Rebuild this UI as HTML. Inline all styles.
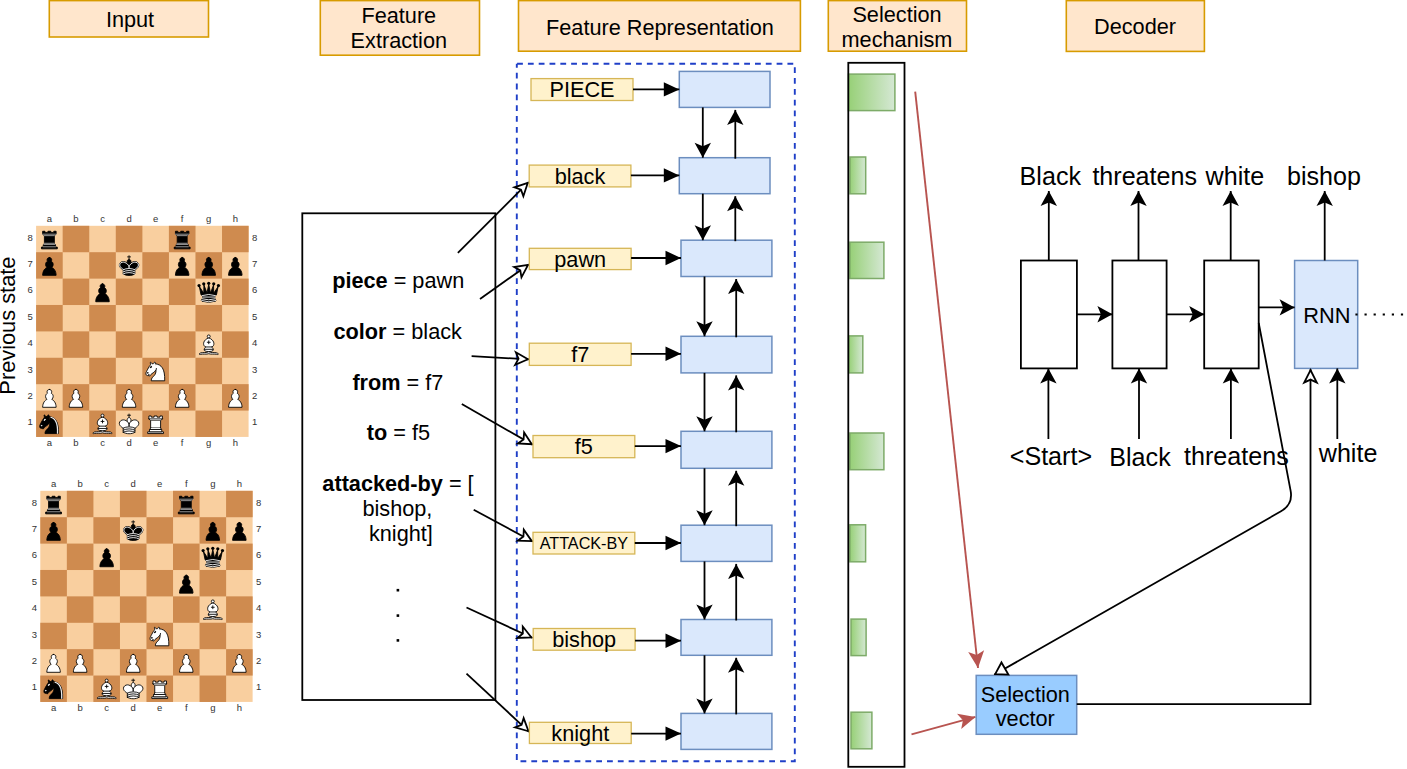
<!DOCTYPE html><html><head><meta charset="utf-8"><style>
html,body{margin:0;padding:0;background:#fff;overflow:hidden;}
svg{display:block;font-family:"Liberation Sans", sans-serif;}
.coord{font-size:9.5px;fill:#333;text-anchor:middle;}
.t21{font-size:21.7px;fill:#000;text-anchor:middle;}
.t24{font-size:25.1px;fill:#000;text-anchor:middle;}
</style></head><body>
<svg width="1407" height="769" viewBox="0 0 1407 769">
<defs>
<symbol id="wP" viewBox="0 0 45 45"><path d="m 22.5,9 c -2.21,0 -4,1.79 -4,4 0,0.89 0.29,1.71 0.78,2.38 C 17.33,16.5 16,18.59 16,21 c 0,2.03 0.94,3.84 2.41,5.03 C 15.41,27.09 11,31.58 11,39.5 H 34 C 34,31.58 29.59,27.09 26.59,26.03 28.06,24.84 29,23.03 29,21 29,18.59 27.67,16.5 25.72,15.38 26.21,14.71 26.5,13.89 26.5,13 c 0,-2.21 -1.79,-4 -4,-4 z" style="fill:#fff;stroke:#000;stroke-width:1.5;stroke-linecap:round"/></symbol>
<symbol id="bP" viewBox="0 0 45 45"><path d="m 22.5,9 c -2.21,0 -4,1.79 -4,4 0,0.89 0.29,1.71 0.78,2.38 C 17.33,16.5 16,18.59 16,21 c 0,2.03 0.94,3.84 2.41,5.03 C 15.41,27.09 11,31.58 11,39.5 H 34 C 34,31.58 29.59,27.09 26.59,26.03 28.06,24.84 29,23.03 29,21 29,18.59 27.67,16.5 25.72,15.38 26.21,14.71 26.5,13.89 26.5,13 c 0,-2.21 -1.79,-4 -4,-4 z" style="fill:#000;stroke:#000;stroke-width:1.5;stroke-linecap:round"/></symbol>
<symbol id="wN" viewBox="0 0 45 45"><g style="fill:none;stroke:#000;stroke-width:1.5;stroke-linecap:round;stroke-linejoin:round;" transform="translate(0,0.3)"><path d="M 22,10 C 32.5,11 38.5,18 38,39 L 15,39 C 15,30 25,32.5 23,18" style="fill:#fff"/><path d="M 24,18 C 24.38,20.91 18.45,25.37 16,27 C 13,29 13.18,31.34 11,31 C 9.958,30.06 12.41,27.96 11,28 C 10,28 11.19,29.23 10,30 C 9,30 5.997,31 6,26 C 6,24 12,14 12,14 C 12,14 13.89,12.1 14,10.5 C 13.27,9.506 13.5,8.5 13.5,7.5 C 14.5,6.5 16.5,10 16.5,10 L 18.5,10 C 18.5,10 19.28,8.008 21,7 C 22,7 22,10 22,10" style="fill:#fff"/><path d="M 9.5 25.5 A 0.5 0.5 0 1 1 8.5,25.5 A 0.5 0.5 0 1 1 9.5 25.5 z" style="fill:#000"/><path d="M 15 15.5 A 0.5 1.5 0 1 1 14,15.5 A 0.5 1.5 0 1 1 15 15.5 z" transform="matrix(0.866,0.5,-0.5,0.866,9.693,-5.173)" style="fill:#000"/></g></symbol>
<symbol id="bN" viewBox="0 0 45 45"><g style="fill:none;stroke:#000;stroke-width:1.5;stroke-linecap:round;stroke-linejoin:round;" transform="translate(0,0.3)"><path d="M 22,10 C 32.5,11 38.5,18 38,39 L 15,39 C 15,30 25,32.5 23,18" style="fill:#000"/><path d="M 24,18 C 24.38,20.91 18.45,25.37 16,27 C 13,29 13.18,31.34 11,31 C 9.958,30.06 12.41,27.96 11,28 C 10,28 11.19,29.23 10,30 C 9,30 5.997,31 6,26 C 6,24 12,14 12,14 C 12,14 13.89,12.1 14,10.5 C 13.27,9.506 13.5,8.5 13.5,7.5 C 14.5,6.5 16.5,10 16.5,10 L 18.5,10 C 18.5,10 19.28,8.008 21,7 C 22,7 22,10 22,10" style="fill:#000"/><path d="M 9.5 25.5 A 0.5 0.5 0 1 1 8.5,25.5 A 0.5 0.5 0 1 1 9.5 25.5 z" style="fill:#ececec;stroke:#ececec"/><path d="M 15 15.5 A 0.5 1.5 0 1 1 14,15.5 A 0.5 1.5 0 1 1 15 15.5 z" transform="matrix(0.866,0.5,-0.5,0.866,9.693,-5.173)" style="fill:#ececec;stroke:#ececec"/><path d="M 24.55,10.4 L 24.1,11.85 L 24.6,12 C 27.75,13 30.25,14.49 32.5,18.75 C 34.75,23.01 35.75,29.06 35.25,39 L 35.2,39.5 L 37.45,39.5 L 37.5,39 C 38,28.94 36.62,22.15 34.25,17.66 C 31.88,13.17 28.46,11.02 25.06,10.5 L 24.55,10.4 z" style="fill:#ececec;stroke:none"/></g></symbol>
<symbol id="wB" viewBox="0 0 45 45"><g style="fill:none;stroke:#000;stroke-width:1.5;stroke-linecap:round;stroke-linejoin:round;" transform="translate(0,0.6)"><g style="fill:#fff;stroke:#000;stroke-linecap:butt"><path d="M 9,36 C 12.39,35.03 19.11,36.43 22.5,34 C 25.89,36.43 32.61,35.03 36,36 C 36,36 37.65,36.54 39,38 C 38.32,38.97 37.35,38.99 36,38.5 C 32.61,37.53 25.89,38.96 22.5,37.5 C 19.11,38.96 12.39,37.53 9,38.5 C 7.65,38.99 6.68,38.97 6,38 C 7.35,36.54 9,36 9,36 z"/><path d="M 15,32 C 17.5,34.5 27.5,34.5 30,32 C 30.5,30.5 30,30 30,30 C 30,27.5 27.5,26 27.5,26 C 33,24.5 33.5,14.5 22.5,10.5 C 11.5,14.5 12,24.5 17.5,26 C 17.5,26 15,27.5 15,30 C 15,30 14.5,30.5 15,32 z"/><path d="M 25 8 A 2.5 2.5 0 1 1 20,8 A 2.5 2.5 0 1 1 25 8 z"/></g><path d="M 17.5,26 L 27.5,26 M 15,30 L 30,30 M 22.5,15.5 L 22.5,20.5 M 20,18 L 25,18" style="fill:none;stroke:#000;stroke-linejoin:miter"/></g></symbol>
<symbol id="wK" viewBox="0 0 45 45"><g style="fill:none;stroke:#000;stroke-width:1.5;stroke-linecap:round;stroke-linejoin:round;"><path d="M 22.5,11.63 L 22.5,6" style="stroke-linejoin:miter"/><path d="M 20,8 L 25,8" style="stroke-linejoin:miter"/><path d="M 22.5,25 C 22.5,25 27,17.5 25.5,14.5 C 25.5,14.5 24.5,12 22.5,12 C 20.5,12 19.5,14.5 19.5,14.5 C 18,17.5 22.5,25 22.5,25" style="fill:#fff;stroke-linecap:butt;stroke-linejoin:miter"/><path d="M 12.5,37 C 18,40.5 27,40.5 32.5,37 L 32.5,30 C 32.5,30 41.5,25.5 38.5,19.5 C 34.5,13 25,16 22.5,23.5 L 22.5,27 L 22.5,23.5 C 20,16 10.5,13 6.5,19.5 C 3.5,25.5 12.5,30 12.5,30 L 12.5,37" style="fill:#fff"/><path d="M 12.5,30 C 18,27 27,27 32.5,30 M 12.5,33.5 C 18,30.5 27,30.5 32.5,33.5 M 12.5,37 C 18,34 27,34 32.5,37"/></g></symbol>
<symbol id="bK" viewBox="0 0 45 45"><g style="fill:none;stroke:#000;stroke-width:1.5;stroke-linecap:round;stroke-linejoin:round;"><path d="M 22.5,11.63 L 22.5,6" style="stroke-linejoin:miter"/><path d="M 22.5,25 C 22.5,25 27,17.5 25.5,14.5 C 25.5,14.5 24.5,12 22.5,12 C 20.5,12 19.5,14.5 19.5,14.5 C 18,17.5 22.5,25 22.5,25" style="fill:#000;stroke-linecap:butt;stroke-linejoin:miter"/><path d="M 12.5,37 C 18,40.5 27,40.5 32.5,37 L 32.5,30 C 32.5,30 41.5,25.5 38.5,19.5 C 34.5,13 25,16 22.5,23.5 L 22.5,27 L 22.5,23.5 C 20,16 10.5,13 6.5,19.5 C 3.5,25.5 12.5,30 12.5,30 L 12.5,37" style="fill:#000"/><path d="M 20,8 L 25,8" style="stroke-linejoin:miter"/><path d="M 32,29.5 C 32,29.5 40.5,25.5 38.03,19.85 C 34.15,14 25,18 22.5,24.5 L 22.5,26.6 L 22.5,24.5 C 20,18 10.85,14 6.97,19.85 C 4.5,25.5 13,29.5 13,29.5" style="stroke:#fff"/><path d="M 12.5,30 C 18,27 27,27 32.5,30 M 12.5,33.5 C 18,30.5 27,30.5 32.5,33.5 M 12.5,37 C 18,34 27,34 32.5,37" style="stroke:#fff"/></g></symbol>
<symbol id="bQ" viewBox="0 0 45 45"><g style="fill:#000;stroke:#000;stroke-width:1.5;stroke-linecap:round;stroke-linejoin:round;"><g style="stroke:none"><circle cx="6" cy="12" r="2.75"/><circle cx="14" cy="9" r="2.75"/><circle cx="22.5" cy="8" r="2.75"/><circle cx="31" cy="9" r="2.75"/><circle cx="39" cy="12" r="2.75"/></g><path d="M 9,26 C 17.5,24.5 30,24.5 36,26 L 38.5,13.5 L 31,25 L 30.7,10.9 L 25.5,24.5 L 22.5,10 L 19.5,24.5 L 14.3,10.9 L 14,25 L 6.5,13.5 L 9,26 z" style="stroke-linecap:butt"/><path d="M 9,26 C 9,28 10.5,28 11.5,30 C 12.5,31.5 12.5,31 12,33.5 C 10.5,34.5 10.5,36 10.5,36 C 9,37.5 11,38.5 11,38.5 C 17.5,39.5 27.5,39.5 34,38.5 C 34,38.5 35.5,37.5 34,36 C 34,36 34.5,34.5 33,33.5 C 32.5,31 32.5,31.5 33.5,30 C 34.5,28 36,28 36,26 C 27.5,24.5 17.5,24.5 9,26 z" style="stroke-linecap:butt"/><path d="M 11,38.5 A 35,35 1 0 0 34,38.5" style="fill:none;stroke-linecap:butt"/><path d="M 11,29 A 35,35 1 0 1 34,29" style="fill:none;stroke:#fff"/><path d="M 12.5,31.5 L 32.5,31.5" style="fill:none;stroke:#fff"/><path d="M 11.5,34.5 A 35,35 1 0 0 33.5,34.5" style="fill:none;stroke:#fff"/><path d="M 10.5,37.5 A 35,35 1 0 0 34.5,37.5" style="fill:none;stroke:#fff"/></g></symbol>
<symbol id="bR" viewBox="0 0 45 45"><g style="fill:#000;stroke:#000;stroke-width:1.5;stroke-linecap:round;stroke-linejoin:round;" transform="translate(0,0.3)"><path d="M 9,39 L 36,39 L 36,36 L 9,36 L 9,39 z" style="stroke-linecap:butt"/><path d="M 12.5,32 L 14,29.5 L 31,29.5 L 32.5,32 L 12.5,32 z" style="stroke-linecap:butt"/><path d="M 12,36 L 12,32 L 33,32 L 33,36 L 12,36 z" style="stroke-linecap:butt"/><path d="M 14,29.5 L 14,16.5 L 31,16.5 L 31,29.5 L 14,29.5 z" style="stroke-linecap:butt;stroke-linejoin:miter"/><path d="M 14,16.5 L 11,14 L 34,14 L 31,16.5 L 14,16.5 z" style="stroke-linecap:butt"/><path d="M 11,14 L 11,9 L 15,9 L 15,11 L 20,11 L 20,9 L 25,9 L 25,11 L 30,11 L 30,9 L 34,9 L 34,14 L 11,14 z" style="stroke-linecap:butt"/><path d="M 12,35.5 L 33,35.5 M 13,31.5 L 32,31.5 M 14,29.5 L 31,29.5 M 14,16.5 L 31,16.5 M 11,14 L 34,14" style="fill:none;stroke:#fff;stroke-width:1;stroke-linejoin:miter"/></g></symbol>
<symbol id="wR" viewBox="0 0 45 45"><g style="fill:#fff;stroke:#000;stroke-width:1.5;stroke-linecap:round;stroke-linejoin:round;" transform="translate(0,0.3)"><path d="M 9,39 L 36,39 L 36,36 L 9,36 L 9,39 z" style="stroke-linecap:butt"/><path d="M 12,36 L 12,32 L 33,32 L 33,36 L 12,36 z" style="stroke-linecap:butt"/><path d="M 11,14 L 11,9 L 15,9 L 15,11 L 20,11 L 20,9 L 25,9 L 25,11 L 30,11 L 30,9 L 34,9 L 34,14" style="stroke-linecap:butt"/><path d="M 34,14 L 31,17 L 14,17 L 11,14"/><path d="M 31,17 L 31,29.5 L 14,29.5 L 14,17" style="stroke-linecap:butt;stroke-linejoin:miter"/><path d="M 31,29.5 L 32.5,32 L 12.5,32 L 14,29.5"/><path d="M 11,14 L 34,14" style="fill:none;stroke-linejoin:miter"/></g></symbol>
<linearGradient id="gg" x1="0" y1="0" x2="1" y2="0"><stop offset="0" stop-color="#97d077"/><stop offset="1" stop-color="#d5e8d4"/></linearGradient>
<marker id="ah" viewBox="0 0 16 16" refX="16" refY="8" markerWidth="16" markerHeight="16" markerUnits="userSpaceOnUse" orient="auto"><path d="M0,0 L16,8 L0,16 z" fill="#000"/></marker>
</defs>
<rect x="49.3" y="0.6" width="159.2" height="36.4" fill="#ffe6cc" stroke="#d79b00" stroke-width="1.6"/>
<text x="130" y="26.6" class="t21">Input</text>
<rect x="320.3" y="0.6" width="159.2" height="54.6" fill="#ffe6cc" stroke="#d79b00" stroke-width="1.6"/>
<text x="398.8" y="23.0" class="t21">Feature</text>
<text x="398.8" y="48.4" class="t21">Extraction</text>
<rect x="518.5" y="0.6" width="281.9" height="50.6" fill="#ffe6cc" stroke="#d79b00" stroke-width="1.6"/>
<text x="660" y="34.5" class="t21">Feature Representation</text>
<rect x="828.3" y="0.6" width="138.20000000000005" height="50.6" fill="#ffe6cc" stroke="#d79b00" stroke-width="1.6"/>
<text x="897" y="21.6" class="t21">Selection</text>
<text x="897" y="46.6" class="t21">mechanism</text>
<rect x="1066.3" y="0.6" width="138.10000000000014" height="50.8" fill="#ffe6cc" stroke="#d79b00" stroke-width="1.6"/>
<text x="1135" y="34.4" class="t21">Decoder</text>
<rect x="36.1" y="225.8" width="212.48" height="211.12" fill="#f9cf9f"/>
<rect x="62.66" y="225.80" width="26.61" height="26.44" fill="#cf8b4f"/>
<rect x="115.78" y="225.80" width="26.61" height="26.44" fill="#cf8b4f"/>
<rect x="168.90" y="225.80" width="26.61" height="26.44" fill="#cf8b4f"/>
<rect x="222.02" y="225.80" width="26.61" height="26.44" fill="#cf8b4f"/>
<rect x="36.10" y="252.19" width="26.61" height="26.44" fill="#cf8b4f"/>
<rect x="89.22" y="252.19" width="26.61" height="26.44" fill="#cf8b4f"/>
<rect x="142.34" y="252.19" width="26.61" height="26.44" fill="#cf8b4f"/>
<rect x="195.46" y="252.19" width="26.61" height="26.44" fill="#cf8b4f"/>
<rect x="62.66" y="278.58" width="26.61" height="26.44" fill="#cf8b4f"/>
<rect x="115.78" y="278.58" width="26.61" height="26.44" fill="#cf8b4f"/>
<rect x="168.90" y="278.58" width="26.61" height="26.44" fill="#cf8b4f"/>
<rect x="222.02" y="278.58" width="26.61" height="26.44" fill="#cf8b4f"/>
<rect x="36.10" y="304.97" width="26.61" height="26.44" fill="#cf8b4f"/>
<rect x="89.22" y="304.97" width="26.61" height="26.44" fill="#cf8b4f"/>
<rect x="142.34" y="304.97" width="26.61" height="26.44" fill="#cf8b4f"/>
<rect x="195.46" y="304.97" width="26.61" height="26.44" fill="#cf8b4f"/>
<rect x="62.66" y="331.36" width="26.61" height="26.44" fill="#cf8b4f"/>
<rect x="115.78" y="331.36" width="26.61" height="26.44" fill="#cf8b4f"/>
<rect x="168.90" y="331.36" width="26.61" height="26.44" fill="#cf8b4f"/>
<rect x="222.02" y="331.36" width="26.61" height="26.44" fill="#cf8b4f"/>
<rect x="36.10" y="357.75" width="26.61" height="26.44" fill="#cf8b4f"/>
<rect x="89.22" y="357.75" width="26.61" height="26.44" fill="#cf8b4f"/>
<rect x="142.34" y="357.75" width="26.61" height="26.44" fill="#cf8b4f"/>
<rect x="195.46" y="357.75" width="26.61" height="26.44" fill="#cf8b4f"/>
<rect x="62.66" y="384.14" width="26.61" height="26.44" fill="#cf8b4f"/>
<rect x="115.78" y="384.14" width="26.61" height="26.44" fill="#cf8b4f"/>
<rect x="168.90" y="384.14" width="26.61" height="26.44" fill="#cf8b4f"/>
<rect x="222.02" y="384.14" width="26.61" height="26.44" fill="#cf8b4f"/>
<rect x="36.10" y="410.53" width="26.61" height="26.44" fill="#cf8b4f"/>
<rect x="89.22" y="410.53" width="26.61" height="26.44" fill="#cf8b4f"/>
<rect x="142.34" y="410.53" width="26.61" height="26.44" fill="#cf8b4f"/>
<rect x="195.46" y="410.53" width="26.61" height="26.44" fill="#cf8b4f"/>
<use href="#bR" x="36.10" y="225.80" width="26.56" height="26.39"/>
<use href="#bR" x="168.90" y="225.80" width="26.56" height="26.39"/>
<use href="#bP" x="36.10" y="252.19" width="26.56" height="26.39"/>
<use href="#bK" x="115.78" y="252.19" width="26.56" height="26.39"/>
<use href="#bP" x="168.90" y="252.19" width="26.56" height="26.39"/>
<use href="#bP" x="195.46" y="252.19" width="26.56" height="26.39"/>
<use href="#bP" x="222.02" y="252.19" width="26.56" height="26.39"/>
<use href="#bP" x="89.22" y="278.58" width="26.56" height="26.39"/>
<use href="#bQ" x="195.46" y="278.58" width="26.56" height="26.39"/>
<use href="#wB" x="195.46" y="331.36" width="26.56" height="26.39"/>
<use href="#wN" x="142.34" y="357.75" width="26.56" height="26.39"/>
<use href="#wP" x="36.10" y="384.14" width="26.56" height="26.39"/>
<use href="#wP" x="62.66" y="384.14" width="26.56" height="26.39"/>
<use href="#wP" x="115.78" y="384.14" width="26.56" height="26.39"/>
<use href="#wP" x="168.90" y="384.14" width="26.56" height="26.39"/>
<use href="#wP" x="222.02" y="384.14" width="26.56" height="26.39"/>
<use href="#bN" x="36.10" y="410.53" width="26.56" height="26.39"/>
<use href="#wB" x="89.22" y="410.53" width="26.56" height="26.39"/>
<use href="#wK" x="115.78" y="410.53" width="26.56" height="26.39"/>
<use href="#wR" x="142.34" y="410.53" width="26.56" height="26.39"/>
<text x="49.38" y="221.80" class="coord">a</text>
<text x="49.38" y="445.62" class="coord">a</text>
<text x="75.94" y="221.80" class="coord">b</text>
<text x="75.94" y="445.62" class="coord">b</text>
<text x="102.50" y="221.80" class="coord">c</text>
<text x="102.50" y="445.62" class="coord">c</text>
<text x="129.06" y="221.80" class="coord">d</text>
<text x="129.06" y="445.62" class="coord">d</text>
<text x="155.62" y="221.80" class="coord">e</text>
<text x="155.62" y="445.62" class="coord">e</text>
<text x="182.18" y="221.80" class="coord">f</text>
<text x="182.18" y="445.62" class="coord">f</text>
<text x="208.74" y="221.80" class="coord">g</text>
<text x="208.74" y="445.62" class="coord">g</text>
<text x="235.30" y="221.80" class="coord">h</text>
<text x="235.30" y="445.62" class="coord">h</text>
<text x="30.10" y="240.69" class="coord">8</text>
<text x="254.58" y="240.69" class="coord">8</text>
<text x="30.10" y="267.08" class="coord">7</text>
<text x="254.58" y="267.08" class="coord">7</text>
<text x="30.10" y="293.48" class="coord">6</text>
<text x="254.58" y="293.48" class="coord">6</text>
<text x="30.10" y="319.87" class="coord">5</text>
<text x="254.58" y="319.87" class="coord">5</text>
<text x="30.10" y="346.25" class="coord">4</text>
<text x="254.58" y="346.25" class="coord">4</text>
<text x="30.10" y="372.64" class="coord">3</text>
<text x="254.58" y="372.64" class="coord">3</text>
<text x="30.10" y="399.03" class="coord">2</text>
<text x="254.58" y="399.03" class="coord">2</text>
<text x="30.10" y="425.43" class="coord">1</text>
<text x="254.58" y="425.43" class="coord">1</text>
<rect x="40.3" y="490.8" width="212.32" height="211.12" fill="#f9cf9f"/>
<rect x="66.84" y="490.80" width="26.59" height="26.44" fill="#cf8b4f"/>
<rect x="119.92" y="490.80" width="26.59" height="26.44" fill="#cf8b4f"/>
<rect x="173.00" y="490.80" width="26.59" height="26.44" fill="#cf8b4f"/>
<rect x="226.08" y="490.80" width="26.59" height="26.44" fill="#cf8b4f"/>
<rect x="40.30" y="517.19" width="26.59" height="26.44" fill="#cf8b4f"/>
<rect x="93.38" y="517.19" width="26.59" height="26.44" fill="#cf8b4f"/>
<rect x="146.46" y="517.19" width="26.59" height="26.44" fill="#cf8b4f"/>
<rect x="199.54" y="517.19" width="26.59" height="26.44" fill="#cf8b4f"/>
<rect x="66.84" y="543.58" width="26.59" height="26.44" fill="#cf8b4f"/>
<rect x="119.92" y="543.58" width="26.59" height="26.44" fill="#cf8b4f"/>
<rect x="173.00" y="543.58" width="26.59" height="26.44" fill="#cf8b4f"/>
<rect x="226.08" y="543.58" width="26.59" height="26.44" fill="#cf8b4f"/>
<rect x="40.30" y="569.97" width="26.59" height="26.44" fill="#cf8b4f"/>
<rect x="93.38" y="569.97" width="26.59" height="26.44" fill="#cf8b4f"/>
<rect x="146.46" y="569.97" width="26.59" height="26.44" fill="#cf8b4f"/>
<rect x="199.54" y="569.97" width="26.59" height="26.44" fill="#cf8b4f"/>
<rect x="66.84" y="596.36" width="26.59" height="26.44" fill="#cf8b4f"/>
<rect x="119.92" y="596.36" width="26.59" height="26.44" fill="#cf8b4f"/>
<rect x="173.00" y="596.36" width="26.59" height="26.44" fill="#cf8b4f"/>
<rect x="226.08" y="596.36" width="26.59" height="26.44" fill="#cf8b4f"/>
<rect x="40.30" y="622.75" width="26.59" height="26.44" fill="#cf8b4f"/>
<rect x="93.38" y="622.75" width="26.59" height="26.44" fill="#cf8b4f"/>
<rect x="146.46" y="622.75" width="26.59" height="26.44" fill="#cf8b4f"/>
<rect x="199.54" y="622.75" width="26.59" height="26.44" fill="#cf8b4f"/>
<rect x="66.84" y="649.14" width="26.59" height="26.44" fill="#cf8b4f"/>
<rect x="119.92" y="649.14" width="26.59" height="26.44" fill="#cf8b4f"/>
<rect x="173.00" y="649.14" width="26.59" height="26.44" fill="#cf8b4f"/>
<rect x="226.08" y="649.14" width="26.59" height="26.44" fill="#cf8b4f"/>
<rect x="40.30" y="675.53" width="26.59" height="26.44" fill="#cf8b4f"/>
<rect x="93.38" y="675.53" width="26.59" height="26.44" fill="#cf8b4f"/>
<rect x="146.46" y="675.53" width="26.59" height="26.44" fill="#cf8b4f"/>
<rect x="199.54" y="675.53" width="26.59" height="26.44" fill="#cf8b4f"/>
<use href="#bR" x="40.30" y="490.80" width="26.54" height="26.39"/>
<use href="#bR" x="173.00" y="490.80" width="26.54" height="26.39"/>
<use href="#bP" x="40.30" y="517.19" width="26.54" height="26.39"/>
<use href="#bK" x="119.92" y="517.19" width="26.54" height="26.39"/>
<use href="#bP" x="199.54" y="517.19" width="26.54" height="26.39"/>
<use href="#bP" x="226.08" y="517.19" width="26.54" height="26.39"/>
<use href="#bP" x="93.38" y="543.58" width="26.54" height="26.39"/>
<use href="#bQ" x="199.54" y="543.58" width="26.54" height="26.39"/>
<use href="#wB" x="199.54" y="596.36" width="26.54" height="26.39"/>
<use href="#wN" x="146.46" y="622.75" width="26.54" height="26.39"/>
<use href="#wP" x="40.30" y="649.14" width="26.54" height="26.39"/>
<use href="#wP" x="66.84" y="649.14" width="26.54" height="26.39"/>
<use href="#wP" x="119.92" y="649.14" width="26.54" height="26.39"/>
<use href="#wP" x="173.00" y="649.14" width="26.54" height="26.39"/>
<use href="#wP" x="226.08" y="649.14" width="26.54" height="26.39"/>
<use href="#bN" x="40.30" y="675.53" width="26.54" height="26.39"/>
<use href="#wB" x="93.38" y="675.53" width="26.54" height="26.39"/>
<use href="#wK" x="119.92" y="675.53" width="26.54" height="26.39"/>
<use href="#wR" x="146.46" y="675.53" width="26.54" height="26.39"/>
<use href="#bP" x="173.00" y="569.97" width="26.54" height="26.39"/>
<text x="53.57" y="486.80" class="coord">a</text>
<text x="53.57" y="710.62" class="coord">a</text>
<text x="80.11" y="486.80" class="coord">b</text>
<text x="80.11" y="710.62" class="coord">b</text>
<text x="106.65" y="486.80" class="coord">c</text>
<text x="106.65" y="710.62" class="coord">c</text>
<text x="133.19" y="486.80" class="coord">d</text>
<text x="133.19" y="710.62" class="coord">d</text>
<text x="159.73" y="486.80" class="coord">e</text>
<text x="159.73" y="710.62" class="coord">e</text>
<text x="186.27" y="486.80" class="coord">f</text>
<text x="186.27" y="710.62" class="coord">f</text>
<text x="212.81" y="486.80" class="coord">g</text>
<text x="212.81" y="710.62" class="coord">g</text>
<text x="239.35" y="486.80" class="coord">h</text>
<text x="239.35" y="710.62" class="coord">h</text>
<text x="34.30" y="505.69" class="coord">8</text>
<text x="258.62" y="505.69" class="coord">8</text>
<text x="34.30" y="532.09" class="coord">7</text>
<text x="258.62" y="532.09" class="coord">7</text>
<text x="34.30" y="558.48" class="coord">6</text>
<text x="258.62" y="558.48" class="coord">6</text>
<text x="34.30" y="584.87" class="coord">5</text>
<text x="258.62" y="584.87" class="coord">5</text>
<text x="34.30" y="611.26" class="coord">4</text>
<text x="258.62" y="611.26" class="coord">4</text>
<text x="34.30" y="637.65" class="coord">3</text>
<text x="258.62" y="637.65" class="coord">3</text>
<text x="34.30" y="664.04" class="coord">2</text>
<text x="258.62" y="664.04" class="coord">2</text>
<text x="34.30" y="690.43" class="coord">1</text>
<text x="258.62" y="690.43" class="coord">1</text>
<text transform="translate(15,325.6) rotate(-90)" class="t21" style="font-size:21.8px">Previous state</text>
<defs>
<marker id="cf" viewBox="-16 -9 18 18" refX="0" refY="0" markerWidth="18" markerHeight="18" markerUnits="userSpaceOnUse" orient="auto"><path d="M0,0 L-15,-8.2 L-11.5,0 L-15,8.2 z" fill="#000"/></marker>
<marker id="bf" viewBox="-17 -9 19 18" refX="0" refY="0" markerWidth="19" markerHeight="18" markerUnits="userSpaceOnUse" orient="auto"><path d="M0,0 L-15.5,-7.2 L-15.5,7.2 z" fill="#000"/></marker>
<marker id="co" viewBox="-17 -10 19 20" refX="0" refY="0" markerWidth="19" markerHeight="20" markerUnits="userSpaceOnUse" orient="auto"><path d="M-0.8,0 L-13.3,-6.3 L-10.3,0 L-13.3,6.3 z" fill="#fff" stroke="#000" stroke-width="1.8" stroke-linejoin="miter"/></marker>
<marker id="rf" viewBox="-19 -10 21 20" refX="0" refY="0" markerWidth="21" markerHeight="20" markerUnits="userSpaceOnUse" orient="auto"><path d="M0,0 L-17,-8 L-13,0 L-17,8 z" fill="#b85450"/></marker>
<marker id="to" viewBox="-17 -10 19 20" refX="0" refY="0" markerWidth="19" markerHeight="20" markerUnits="userSpaceOnUse" orient="auto"><path d="M-0.8,0 L-12,-7 L-12,7 z" fill="#fff" stroke="#000" stroke-width="1.8" stroke-linejoin="miter"/></marker>
</defs>
<rect x="516.8" y="63.8" width="278" height="697.4" fill="none" stroke="#1f3fc8" stroke-width="1.9" stroke-dasharray="5.8,5.014" stroke-dashoffset="10.528"/>
<rect x="302.3" y="213.3" width="193.1" height="486.7" fill="none" stroke="#000" stroke-width="1.8"/>
<text x="398.2" y="288.4" class="t21"><tspan font-weight="bold">piece</tspan> = pawn</text>
<text x="397.7" y="339.1" class="t21"><tspan font-weight="bold">color</tspan> = black</text>
<text x="397.9" y="390.3" class="t21"><tspan font-weight="bold">from</tspan> = f7</text>
<text x="398.4" y="439.9" class="t21"><tspan font-weight="bold">to</tspan> = f5</text>
<text x="398" y="490.6" class="t21"><tspan font-weight="bold">attacked-by</tspan> = [</text>
<text x="397.4" y="515.5" class="t21">bishop,</text>
<text x="400.9" y="540.9" class="t21">knight]</text>
<rect x="396.6" y="588.9000000000001" width="2.6" height="2.6" fill="#000"/>
<rect x="396.6" y="614.3000000000001" width="2.6" height="2.6" fill="#000"/>
<rect x="396.6" y="639.1" width="2.6" height="2.6" fill="#000"/>
<path d="M457.9,252.9 L528.3,182.4" stroke="#000" stroke-width="1.8" fill="none" marker-end="url(#co)"/>
<path d="M480,298.9 L528.7,264.5" stroke="#000" stroke-width="1.8" fill="none" marker-end="url(#co)"/>
<path d="M471.6,356.2 L528.8,359.3" stroke="#000" stroke-width="1.8" fill="none" marker-end="url(#co)"/>
<path d="M461.8,404 L532.5,444.6" stroke="#000" stroke-width="1.8" fill="none" marker-end="url(#co)"/>
<path d="M473.7,509.7 L532.5,541.5" stroke="#000" stroke-width="1.8" fill="none" marker-end="url(#co)"/>
<path d="M466.5,607.5 L532.2,637.8" stroke="#000" stroke-width="1.8" fill="none" marker-end="url(#co)"/>
<path d="M466.5,673.6 L529.1,731.8" stroke="#000" stroke-width="1.8" fill="none" marker-end="url(#co)"/>
<rect x="531" y="78.6" width="102.0" height="21.9" fill="#fff2cc" stroke="#d6b656" stroke-width="1.3"/>
<text x="582.0" y="97.4" class="t21" style="font-size:21.7px">PIECE</text>
<rect x="679.3" y="71.4" width="90.7" height="36.0" fill="#dae8fc" stroke="#6c8ebf" stroke-width="1.5"/>
<path d="M633,89.4 L679.3,89.4" stroke="#000" stroke-width="1.8" fill="none" marker-end="url(#bf)"/>
<rect x="529.2" y="165.1" width="101.7" height="21.8" fill="#fff2cc" stroke="#d6b656" stroke-width="1.3"/>
<text x="580.0" y="183.8" class="t21" style="font-size:21.7px">black</text>
<rect x="679.3" y="157.7" width="90.7" height="36.0" fill="#dae8fc" stroke="#6c8ebf" stroke-width="1.5"/>
<path d="M630.9,175.4 L679.3,175.4" stroke="#000" stroke-width="1.8" fill="none" marker-end="url(#bf)"/>
<rect x="529.3" y="248.3" width="101.8" height="21.3" fill="#fff2cc" stroke="#d6b656" stroke-width="1.3"/>
<text x="580.2" y="266.8" class="t21" style="font-size:21.7px">pawn</text>
<rect x="681" y="240.2" width="90.9" height="36.3" fill="#dae8fc" stroke="#6c8ebf" stroke-width="1.5"/>
<path d="M631.1,258 L681,258" stroke="#000" stroke-width="1.8" fill="none" marker-end="url(#bf)"/>
<rect x="529.3" y="343.2" width="101.8" height="22.2" fill="#fff2cc" stroke="#d6b656" stroke-width="1.3"/>
<text x="580.2" y="362.1" class="t21" style="font-size:21.7px">f7</text>
<rect x="681" y="336.3" width="90.9" height="36.6" fill="#dae8fc" stroke="#6c8ebf" stroke-width="1.5"/>
<path d="M631.1,353.8 L681,353.8" stroke="#000" stroke-width="1.8" fill="none" marker-end="url(#bf)"/>
<rect x="533" y="435.5" width="101.8" height="22.2" fill="#fff2cc" stroke="#d6b656" stroke-width="1.3"/>
<text x="583.9" y="454.4" class="t21" style="font-size:21.7px">f5</text>
<rect x="681" y="431.3" width="90.9" height="37.0" fill="#dae8fc" stroke="#6c8ebf" stroke-width="1.5"/>
<path d="M634.8,446.1 L681,446.1" stroke="#000" stroke-width="1.8" fill="none" marker-end="url(#bf)"/>
<rect x="533" y="532.3" width="101.8" height="21.7" fill="#fff2cc" stroke="#d6b656" stroke-width="1.3"/>
<text x="583.9" y="549.0" class="t21" style="font-size:16.2px">ATTACK-BY</text>
<rect x="681" y="525.2" width="90.9" height="36.2" fill="#dae8fc" stroke="#6c8ebf" stroke-width="1.5"/>
<path d="M634.8,543 L681,543" stroke="#000" stroke-width="1.8" fill="none" marker-end="url(#bf)"/>
<rect x="533.2" y="628.5" width="101.9" height="21.7" fill="#fff2cc" stroke="#d6b656" stroke-width="1.3"/>
<text x="584.2" y="647.2" class="t21" style="font-size:21.7px">bishop</text>
<rect x="681" y="619.5" width="90.9" height="35.8" fill="#dae8fc" stroke="#6c8ebf" stroke-width="1.5"/>
<path d="M635.1,640.7 L681,640.7" stroke="#000" stroke-width="1.8" fill="none" marker-end="url(#bf)"/>
<rect x="529.4" y="722.3" width="101.8" height="21.2" fill="#fff2cc" stroke="#d6b656" stroke-width="1.3"/>
<text x="580.3" y="740.7" class="t21" style="font-size:21.7px">knight</text>
<rect x="681" y="713.4" width="90.9" height="36.0" fill="#dae8fc" stroke="#6c8ebf" stroke-width="1.5"/>
<path d="M631.2,733.6 L681,733.6" stroke="#000" stroke-width="1.8" fill="none" marker-end="url(#bf)"/>
<path d="M702.8,107.4 L702.8,157.7" stroke="#000" stroke-width="1.8" fill="none" marker-end="url(#cf)"/>
<path d="M735.3,158.7 L735.3,109.9" stroke="#000" stroke-width="1.8" fill="none" marker-end="url(#cf)"/>
<path d="M702.8,193.7 L702.8,240.2" stroke="#000" stroke-width="1.8" fill="none" marker-end="url(#cf)"/>
<path d="M735.3,241.2 L735.3,196.2" stroke="#000" stroke-width="1.8" fill="none" marker-end="url(#cf)"/>
<path d="M704.5,276.5 L704.5,336.3" stroke="#000" stroke-width="1.8" fill="none" marker-end="url(#cf)"/>
<path d="M736.2,337.3 L736.2,279.0" stroke="#000" stroke-width="1.8" fill="none" marker-end="url(#cf)"/>
<path d="M704.5,372.9 L704.5,431.3" stroke="#000" stroke-width="1.8" fill="none" marker-end="url(#cf)"/>
<path d="M736.2,432.3 L736.2,375.4" stroke="#000" stroke-width="1.8" fill="none" marker-end="url(#cf)"/>
<path d="M704.5,468.3 L704.5,525.2" stroke="#000" stroke-width="1.8" fill="none" marker-end="url(#cf)"/>
<path d="M736.2,526.2 L736.2,470.8" stroke="#000" stroke-width="1.8" fill="none" marker-end="url(#cf)"/>
<path d="M704.5,561.4 L704.5,619.5" stroke="#000" stroke-width="1.8" fill="none" marker-end="url(#cf)"/>
<path d="M736.2,620.5 L736.2,563.9" stroke="#000" stroke-width="1.8" fill="none" marker-end="url(#cf)"/>
<path d="M704.5,655.3 L704.5,713.4" stroke="#000" stroke-width="1.8" fill="none" marker-end="url(#cf)"/>
<path d="M736.2,714.4 L736.2,657.8" stroke="#000" stroke-width="1.8" fill="none" marker-end="url(#cf)"/>
<rect x="848.5" y="74.1" width="46.4" height="36.5" fill="url(#gg)" stroke="#7dab68" stroke-width="1.5"/>
<rect x="850" y="157" width="15.7" height="36.8" fill="url(#gg)" stroke="#7dab68" stroke-width="1.5"/>
<rect x="849.9" y="242.2" width="34.0" height="36.3" fill="url(#gg)" stroke="#7dab68" stroke-width="1.5"/>
<rect x="848.7" y="335.9" width="14.1" height="37.0" fill="url(#gg)" stroke="#7dab68" stroke-width="1.5"/>
<rect x="849.9" y="433" width="34.0" height="36.7" fill="url(#gg)" stroke="#7dab68" stroke-width="1.5"/>
<rect x="849.9" y="524.8" width="15.7" height="37.0" fill="url(#gg)" stroke="#7dab68" stroke-width="1.5"/>
<rect x="851" y="619.1" width="15.1" height="36.5" fill="url(#gg)" stroke="#7dab68" stroke-width="1.5"/>
<rect x="851" y="712.2" width="20.9" height="36.6" fill="url(#gg)" stroke="#7dab68" stroke-width="1.5"/>
<rect x="848.3" y="62.8" width="56.2" height="704" fill="none" stroke="#000" stroke-width="1.8"/>
<path d="M915.2,91.6 L978,668" stroke="#b85450" stroke-width="1.9" fill="none" marker-end="url(#rf)"/>
<path d="M911.5,734.3 L975.5,716.9" stroke="#b85450" stroke-width="1.9" fill="none" marker-end="url(#rf)"/>
<rect x="976.2" y="675.4" width="100.5" height="58.9" fill="#99ccff" stroke="#6c8ebf" stroke-width="1.5"/>
<text x="1025.3" y="701.7" class="t21">Selection</text>
<text x="1025.3" y="726.2" class="t21">vector</text>
<rect x="1020.9" y="260.5" width="56.0" height="107.9" fill="#fff" stroke="#000" stroke-width="1.8"/>
<rect x="1112.4" y="260.5" width="54.2" height="107.9" fill="#fff" stroke="#000" stroke-width="1.8"/>
<rect x="1204.2" y="260.5" width="54.5" height="107.9" fill="#fff" stroke="#000" stroke-width="1.8"/>
<rect x="1294.6" y="260.5" width="63.1" height="107.9" fill="#dae8fc" stroke="#6c8ebf" stroke-width="1.5"/>
<text x="1326.9" y="322.8" class="t21" style="font-size:21.8px">RNN</text>
<text x="1050.3" y="185" class="t24">Black</text>
<text x="1144.7" y="185" class="t24">threatens</text>
<text x="1234.9" y="185" class="t24">white</text>
<text x="1324" y="185" class="t24">bishop</text>
<path d="M1048.8,260.5 L1048.8,191" stroke="#000" stroke-width="1.8" fill="none" marker-end="url(#cf)"/>
<path d="M1138.5,260.5 L1138.5,191" stroke="#000" stroke-width="1.8" fill="none" marker-end="url(#cf)"/>
<path d="M1230.7,260.5 L1230.7,191" stroke="#000" stroke-width="1.8" fill="none" marker-end="url(#cf)"/>
<path d="M1324.7,260.5 L1324.7,191" stroke="#000" stroke-width="1.8" fill="none" marker-end="url(#cf)"/>
<path d="M1076.9,314.3 L1112.4,314.3" stroke="#000" stroke-width="1.8" fill="none" marker-end="url(#cf)"/>
<path d="M1166.6,314.3 L1204.2,314.3" stroke="#000" stroke-width="1.8" fill="none" marker-end="url(#cf)"/>
<path d="M1258.7,307.4 L1294.6,307.4" stroke="#000" stroke-width="1.8" fill="none" marker-end="url(#cf)"/>
<path d="M1048.4,439 L1048.4,368.4" stroke="#000" stroke-width="1.8" fill="none" marker-end="url(#cf)"/>
<path d="M1139,439 L1139,368.4" stroke="#000" stroke-width="1.8" fill="none" marker-end="url(#cf)"/>
<path d="M1230.9,439 L1230.9,368.4" stroke="#000" stroke-width="1.8" fill="none" marker-end="url(#cf)"/>
<path d="M1337.3,439 L1337.3,368.4" stroke="#000" stroke-width="1.8" fill="none" marker-end="url(#cf)"/>
<text x="1050.9" y="465.3" class="t24">&lt;Start&gt;</text>
<text x="1140" y="465.9" class="t24">Black</text>
<text x="1236.4" y="464.7" class="t24">threatens</text>
<text x="1348.1" y="462.3" class="t24">white</text>
<path d="M1355.4,314.5 L1407,314.5" stroke="#000" stroke-width="2.1" fill="none" stroke-dasharray="2.2,6.9"/>
<path d="M1258.7,323 L1290.6,490.7 Q1293.2,504.4 1281,511.3 L994.5,674.5" stroke="#000" stroke-width="1.8" fill="none" marker-end="url(#to)"/>
<path d="M1076.7,704.2 L1310.5,704.2 L1310.5,369.3" stroke="#000" stroke-width="1.8" fill="none" marker-end="url(#co)"/>
</svg></body></html>
